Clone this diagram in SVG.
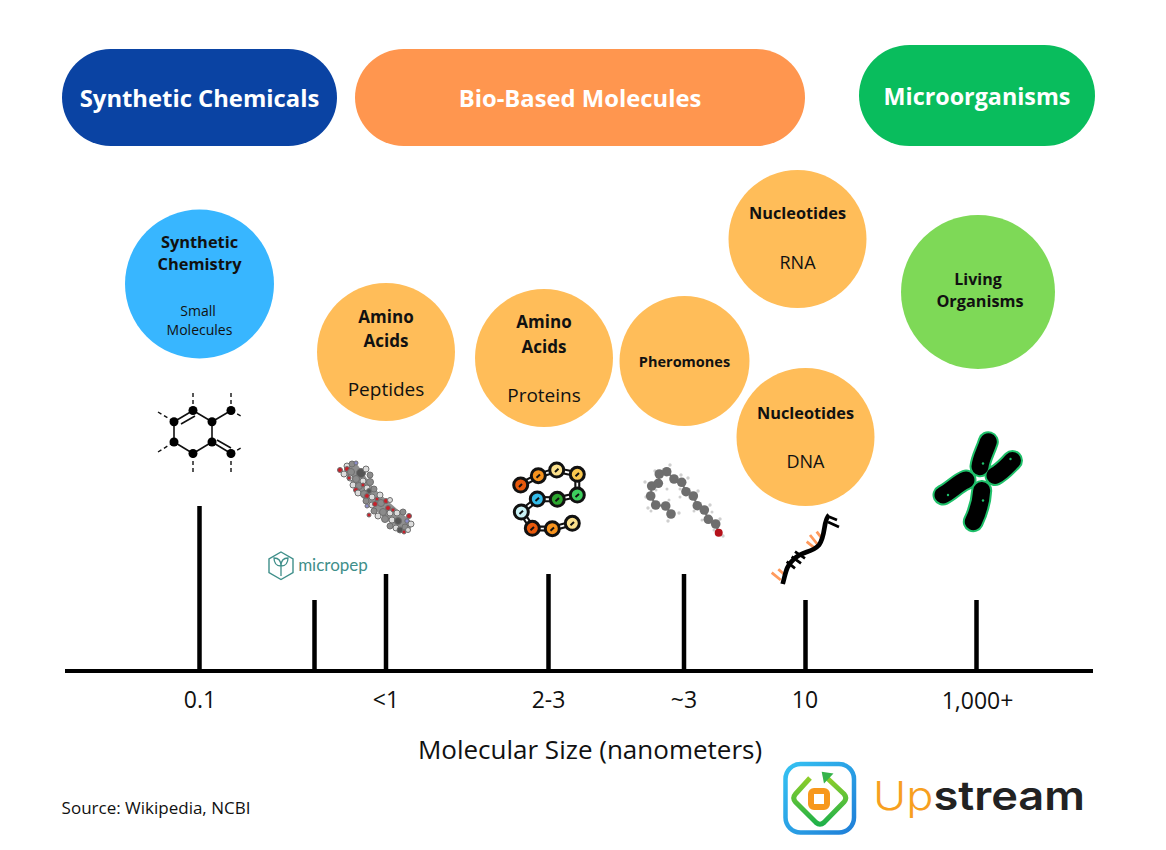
<svg xmlns="http://www.w3.org/2000/svg" width="1166" height="850" viewBox="0 0 1166 850">
<defs>
<linearGradient id="logoG" x1="0" y1="0" x2="1" y2="1"><stop offset="0" stop-color="#35c2f2"/><stop offset="1" stop-color="#1f7fd8"/></linearGradient>
<linearGradient id="diaG" x1="0" y1="0" x2="0" y2="1"><stop offset="0" stop-color="#8fce2a"/><stop offset="1" stop-color="#1fb14a"/></linearGradient>
</defs>
<style>
text{font-family:"Open Sans","Noto Sans","Liberation Sans",sans-serif;fill:#111;text-anchor:middle}
.pill{font-weight:700;font-size:23.800px;fill:#fff}
.b{font-weight:700}
.tick{font-size:23px;fill:#111}
.bond{stroke:#111;stroke-width:1.600;fill:none}
.dash{stroke:#111;stroke-width:1.400;stroke-dasharray:4 3;fill:none}
.link{stroke:#111;stroke-width:6;fill:none}
.linkw{stroke:#fff;stroke-width:1.800;fill:none}
.res{stroke:#111;stroke-width:3}
.g{fill:#8b8b8b}.w{fill:#dcdcdc}.r{fill:#c8202a}.n{fill:#8a8cc8}.k{fill:#555}
#icon-peptide circle{stroke:#6f6f6f;stroke-width:1}
.c{fill:#6e6e6e}.h{fill:#cfcfcf}
</style>
<rect width="1166" height="850" fill="#fff"/>

<g id="pill-synthetic"><rect x="62" y="49" width="275" height="97" rx="48.500" fill="#0a43a3"/><text class="pill" x="199.500" y="107">Synthetic Chemicals</text></g>
<g id="pill-bio"><rect x="355" y="49" width="450" height="97" rx="48.500" fill="#ff964f"/><text class="pill" x="580" y="107">Bio-Based Molecules</text></g>
<g id="pill-micro"><rect x="859" y="45" width="236" height="101" rx="50.500" fill="#09bd5d"/><text class="pill" x="977" y="105" style="font-size:23.300px">Microorganisms</text></g>

<g id="connectors">
<path d="M65 671H1093" stroke="#000" stroke-width="4" fill="none"/>
<path d="M199.500 506V671M314.500 600V671M386 574V671M548.500 574V671M684 574V671M805.500 600V671M976.500 600V671" stroke="#000" stroke-width="4.500" fill="none"/>
</g>

<g id="node-synthetic-chemistry"><circle cx="199.500" cy="284" r="74.500" fill="#38b6ff"/>
<text class="b" x="199.500" y="248" font-size="16.400">Synthetic</text><text class="b" x="199.500" y="270" font-size="16.400">Chemistry</text>
<text x="198" y="316" font-size="14">Small</text><text x="199.500" y="335" font-size="14">Molecules</text></g>
<g id="node-peptides"><circle cx="386" cy="352" r="69" fill="#ffbd59"/>
<text class="b" x="386" y="323" font-size="17">Amino</text><text class="b" x="386" y="347" font-size="17">Acids</text><text x="386" y="396" font-size="19">Peptides</text></g>
<g id="node-proteins"><circle cx="544" cy="358" r="69" fill="#ffbd59"/>
<text class="b" x="544" y="328" font-size="17">Amino</text><text class="b" x="544" y="353" font-size="17">Acids</text><text x="544" y="402" font-size="19">Proteins</text></g>
<g id="node-pheromones"><circle cx="684.500" cy="361" r="65" fill="#ffbd59"/><text class="b" x="684.500" y="367" font-size="14.500">Pheromones</text></g>
<g id="node-rna"><circle cx="797.500" cy="239" r="69" fill="#ffbd59"/><text class="b" x="797.500" y="219" font-size="16.300">Nucleotides</text><text x="797.500" y="269" font-size="18">RNA</text></g>
<g id="node-dna"><circle cx="805.500" cy="437" r="69" fill="#ffbd59"/><text class="b" x="805.500" y="419" font-size="16.300">Nucleotides</text><text x="805.500" y="468" font-size="18">DNA</text></g>
<g id="node-living"><circle cx="978" cy="292" r="77" fill="#7ed957"/><text class="b" x="978" y="285" font-size="16">Living</text><text class="b" x="980" y="307" font-size="16.300">Organisms</text></g>

<g id="icon-hexagon">
<path class="bond" d="M174 421.700L193 410.500L212 421.700V442L193 453.500L174 442ZM212 421.700L231 410.500M212 442L231 453.500M181 424L195 416M217 440L231 448"/>
<path class="dash" d="M193 393V410M231 393V410M193 454V472M231 454V472M158 412L174 421.700M158 452L174 442M231 410.500L241 416M231 453.500L241 448"/>
<g fill="#000"><circle cx="174" cy="421.700" r="4.500"/><circle cx="193" cy="410.500" r="4.500"/><circle cx="212" cy="421.700" r="4.500"/><circle cx="212" cy="442" r="4.500"/><circle cx="193" cy="453.500" r="4.500"/><circle cx="174" cy="442" r="4.500"/><circle cx="231" cy="410.500" r="4.500"/><circle cx="231" cy="453.500" r="4.500"/></g>
</g>

<g id="icon-peptide">
<path d="M352 470L367 492L382 506L404 525" fill="none" stroke="#8f8f8f" stroke-width="15" stroke-linecap="round"/>
<circle class="w" cx="347" cy="466" r="3"/><circle class="g" cx="352" cy="464" r="3"/><circle class="n" cx="356" cy="463" r="2"/><circle class="r" cx="340" cy="470" r="2.500"/><circle class="r" cx="347" cy="469" r="2.500"/><circle class="w" cx="344" cy="474" r="3"/><circle class="g" cx="351" cy="472" r="3.500"/><circle class="k" cx="361" cy="473" r="4.500"/><circle class="w" cx="366" cy="469" r="3"/><circle class="g" cx="370" cy="475" r="3"/><circle class="w" cx="350" cy="478" r="3"/><circle class="r" cx="349" cy="478" r="2"/><circle class="g" cx="356" cy="479" r="3.500"/><circle class="w" cx="363" cy="481" r="3"/><circle class="g" cx="370" cy="482" r="3.500"/><circle class="w" cx="353" cy="485" r="3"/><circle class="g" cx="359" cy="486" r="3.500"/><circle class="r" cx="356" cy="490" r="2.500"/><circle class="r" cx="363" cy="485" r="2"/><circle class="w" cx="367" cy="488" r="3"/><circle class="k" cx="369" cy="491" r="2.500"/><circle class="g" cx="374" cy="489" r="3"/><circle class="w" cx="358" cy="493" r="3"/><circle class="g" cx="364" cy="494" r="3.500"/><circle class="r" cx="367" cy="496" r="2.500"/><circle class="w" cx="372" cy="497" r="3"/><circle class="r" cx="377" cy="499" r="2"/><circle class="w" cx="380" cy="495" r="3"/><circle class="g" cx="366" cy="501" r="3"/><circle class="n" cx="367" cy="506" r="2"/><circle class="w" cx="372" cy="505" r="3"/><circle class="r" cx="375" cy="504" r="2.500"/><circle class="g" cx="381" cy="503" r="3.500"/><circle class="r" cx="386" cy="501" r="2.500"/><circle class="w" cx="390" cy="500" r="2.500"/><circle class="r" cx="388" cy="508" r="2.500"/><circle class="g" cx="374" cy="511" r="3"/><circle class="r" cx="369" cy="515" r="2"/><circle class="w" cx="378" cy="516" r="3"/><circle class="g" cx="383" cy="512" r="3.500"/><circle class="w" cx="390" cy="513" r="3"/><circle class="r" cx="393" cy="510" r="2"/><circle class="w" cx="397" cy="513" r="3"/><circle class="g" cx="403" cy="512" r="3"/><circle class="r" cx="409" cy="516" r="2.500"/><circle class="g" cx="385" cy="519" r="3.500"/><circle class="w" cx="392" cy="520" r="3"/><circle class="k" cx="398" cy="521" r="3.500"/><circle class="n" cx="407" cy="521" r="2.200"/><circle class="w" cx="411" cy="524" r="3"/><circle class="g" cx="390" cy="526" r="3"/><circle class="w" cx="396" cy="528" r="3"/><circle class="k" cx="400" cy="530" r="3"/><circle class="g" cx="405" cy="527" r="3"/><circle class="r" cx="404" cy="532" r="2"/><circle class="w" cx="408" cy="530" r="2.500"/>
</g>

<g id="icon-micropep">
<path d="M281 552L293 559V572.500L281 579.500L269 572.500V559Z" fill="none" stroke="#3f8f8a" stroke-width="1.400"/>
<path d="M281 576V566M281 566C276 566 274 562 274 558C279 558 281 561 281 566C281 561 283 558 288 558C288 562 286 566 281 566" fill="none" stroke="#3f8f8a" stroke-width="1.300"/>
<text x="333" y="571" font-size="17" style="font-family:Lato,'Open Sans',sans-serif;fill:#3f8f8a">micropep</text>
</g>

<g id="icon-protein">
<path class="link" d="M520.700 485L538.300 475.700L556.700 470L577.300 474.300V495L557.300 499.300L537.300 499L521.300 512L532.300 528.300L552.300 528.700L572.300 523.300"/>
<path class="linkw" d="M520.700 485L538.300 475.700L556.700 470L577.300 474.300V495L557.300 499.300L537.300 499L521.300 512L532.300 528.300L552.300 528.700L572.300 523.300"/>
<g class="res"><circle cx="520.700" cy="485" r="7" fill="#e8590c"/><circle cx="538.300" cy="475.700" r="7" fill="#f7931e"/><circle cx="556.700" cy="470" r="7" fill="#fbe08c"/><circle cx="577.300" cy="474.300" r="7" fill="#f9c74f"/><circle cx="577.300" cy="495" r="7" fill="#3ecf5e"/><circle cx="557.300" cy="499.300" r="7" fill="#2ca62f"/><circle cx="537.300" cy="499" r="7" fill="#35bdea"/><circle cx="521.300" cy="512" r="7" fill="#c9f1f5"/><circle cx="532.300" cy="528.300" r="7" fill="#e8590c"/><circle cx="552.300" cy="528.700" r="7" fill="#f7931e"/><circle cx="572.300" cy="523.300" r="7" fill="#fbe08c"/></g>
<path d="M519 487L522 484M536.500 477.700L540 474.500M555 472L558.500 468.800M575.500 476.300L579 473M575.500 497L579 494M555.500 501.300L559 498M535.500 501L539 497.800M519.500 514L523 510.800M530.500 530.300L534 527M550.500 530.700L554 527.500M570.500 525.300L574 522" stroke="#111" stroke-width="2" fill="none"/>
</g>

<g id="icon-pheromone">
<path d="M671 514L665.700 506L655.700 505L650.700 496L651.700 486L658.300 483.300L659.300 474L666.700 471.700L674 479L681.700 482.300L686 491.700L693.300 496L697.300 505.700L704.300 510L708.300 519.300L715.700 524L718.700 532.700" fill="none" stroke="#777" stroke-width="2"/>
<g class="h"><circle cx="645" cy="482" r="1.700"/><circle cx="646" cy="497" r="1.700"/><circle cx="656" cy="490" r="1.500"/><circle cx="655" cy="471" r="1.700"/><circle cx="670" cy="465" r="1.700"/><circle cx="681" cy="475" r="1.700"/><circle cx="688" cy="478" r="1.700"/><circle cx="680" cy="489" r="1.500"/><circle cx="698" cy="491" r="1.700"/><circle cx="680" cy="497" r="1.500"/><circle cx="690" cy="498" r="1.500"/><circle cx="710" cy="505" r="1.700"/><circle cx="694" cy="511" r="1.500"/><circle cx="712" cy="512" r="1.500"/><circle cx="702" cy="520" r="1.500"/><circle cx="720" cy="519" r="1.700"/><circle cx="714" cy="530" r="1.500"/><circle cx="723" cy="536" r="1.700"/><circle cx="648" cy="508" r="1.700"/><circle cx="651" cy="511" r="1.500"/><circle cx="669" cy="500" r="1.500"/><circle cx="679" cy="513" r="1.700"/><circle cx="668" cy="521" r="1.700"/><circle cx="667" cy="489" r="1.500"/></g>
<g class="c"><circle cx="671" cy="514" r="4.800"/><circle cx="665.700" cy="506" r="4.800"/><circle cx="655.700" cy="505" r="4.800"/><circle cx="650.700" cy="496" r="4.800"/><circle cx="651.700" cy="486" r="4.800"/><circle cx="658.300" cy="483.300" r="4.800"/><circle cx="659.300" cy="474" r="4.800"/><circle cx="666.700" cy="471.700" r="4.800"/><circle cx="674" cy="479" r="4.800"/><circle cx="681.700" cy="482.300" r="4.800"/><circle cx="686" cy="491.700" r="4.800"/><circle cx="693.300" cy="496" r="4.800"/><circle cx="697.300" cy="505.700" r="4.800"/><circle cx="704.300" cy="510" r="4.800"/><circle cx="708.300" cy="519.300" r="4.800"/><circle cx="715.700" cy="524" r="4.800"/></g>
<circle cx="718.700" cy="532.700" r="4" fill="#b5121b"/>
</g>

<g id="icon-dna">
<path d="M771.700 572.700L780.700 580M778.300 569.300L785 575M806.700 541.700L815 548.300M810 535L818 545M816.700 531.700L823 540" stroke="#ff9a5c" stroke-width="2.800" fill="none"/>
<path d="M786.700 561.700L795 568.300M791.700 556.700L801 563.300M795 551.700L805 558.300M829 516.700L837 520M828 522L839 527" stroke="#000" stroke-width="2.800" fill="none"/>
<path d="M782.700 584C786 572 786 566 794 559C802 551 812 553 819 545C826 536 823 520 829 515" fill="none" stroke="#000" stroke-width="4.700"/>
</g>

<g id="icon-chromosome" fill="none" stroke-linecap="round">
<path d="M988.300 441.700C985 452 981 458 980 466.700M1012.500 460.500C1007 466 1002 472 995 475.500M966 480C958 483 951 491 943 495M981.700 490.500C981 502 978 512 973.300 521.700" stroke="#1fc06a" stroke-width="21"/>
<path d="M988.300 441.700C985 452 981 458 980 466.700M1012.500 460.500C1007 466 1002 472 995 475.500M966 480C958 483 951 491 943 495M981.700 490.500C981 502 978 512 973.300 521.700" stroke="#000" stroke-width="17"/>
<g fill="#1fc06a"><circle cx="983" cy="463.500" r="1.200"/><circle cx="1010.500" cy="459" r="1.200"/><circle cx="948" cy="495" r="1.200"/><circle cx="983" cy="500.500" r="1.200"/></g>
</g>

<g id="axis-labels">
<text class="tick" x="200" y="708">0.1</text>
<text class="tick" x="386" y="708">&lt;1</text>
<text class="tick" x="548.500" y="708">2-3</text>
<text class="tick" x="684" y="708">~3</text>
<text class="tick" x="805" y="708">10</text>
<text class="tick" x="977.500" y="709">1,000+</text>
<text x="590" y="759" font-size="26">Molecular Size (nanometers)</text>
<text x="156" y="814" font-size="17">Source: Wikipedia, NCBI</text>
</g>

<g id="logo-upstream">
<rect x="785.500" y="764" width="68.500" height="68.500" rx="15" fill="#fff" stroke="url(#logoG)" stroke-width="4.500"/>
<path d="M810 778L795.500 794Q792 798 795.500 802L816 822.500Q820 826 824 822.500L844 802Q847.500 798 844 794L826 777" fill="none" stroke="url(#diaG)" stroke-width="5"/>
<path d="M821.700 771.700L833.500 773.500L824 783.500Z" fill="#35b34a"/>
<rect x="811" y="791" width="16" height="16" rx="3" fill="#fff" stroke="#f7981d" stroke-width="6"/>
<text x="873" y="810" font-size="40" style="text-anchor:start;font-family:Inter,'Open Sans',sans-serif;fill:#222;font-weight:600" textLength="212" lengthAdjust="spacingAndGlyphs"><tspan style="fill:#f7a01f;font-weight:300">Up</tspan>stream</text>
</g>
</svg>
